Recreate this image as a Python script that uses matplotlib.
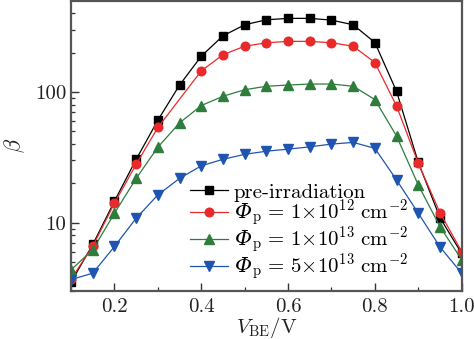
#!/usr/bin/env python3
"""Current gain beta vs V_BE for several proton fluences."""

import matplotlib

matplotlib.use("Agg")

import matplotlib.pyplot as plt
from matplotlib.ticker import FixedLocator, MultipleLocator, NullFormatter

plt.rcParams["font.family"] = "serif"
plt.rcParams["font.serif"] = ["cmr10", "DejaVu Serif"]
plt.rcParams["mathtext.fontset"] = "cm"
# used only by the legend texts (italic capital Phi via \mathsf)
plt.rcParams["mathtext.rm"] = "cmr10"
plt.rcParams["mathtext.it"] = "cmr10"
plt.rcParams["mathtext.sf"] = "DejaVu Serif:italic"
plt.rcParams["axes.formatter.use_mathtext"] = True

v_be = [0.10, 0.15, 0.20, 0.25, 0.30, 0.35, 0.40, 0.45, 0.50, 0.55,
        0.60, 0.65, 0.70, 0.75, 0.80, 0.85, 0.90, 0.95, 1.00]
v_be_red = [0.10, 0.15, 0.20, 0.25, 0.30, 0.40, 0.45, 0.50, 0.55,
            0.60, 0.65, 0.70, 0.75, 0.80, 0.85, 0.90, 0.95, 1.00]

beta_pre = [3.5, 6.8, 14.6, 30.5, 60.8, 113, 188, 269, 327, 357,
            366, 366, 355, 327, 239, 101, 28.9, 10.9, 5.8]
beta_1e12 = [3.7, 6.6, 14.1, 28, 53.5, 145, 193, 224, 238,
             244, 244, 238, 224, 168, 78, 28.4, 11.9, 6.0]
beta_1e13 = [4.35, 6.2, 11.8, 21.8, 37.8, 58, 78.7, 92.7, 104, 110.6,
             113, 115, 115, 110.6, 87.5, 45.9, 19.4, 9.3, 5.2]
beta_5e13 = [3.66, 4.1, 6.56, 10.8, 16.3, 21.8, 27.2, 30.5, 33.3, 35.2,
             36.5, 38, 39.9, 41.1, 37, 21.2, 11.8, 6.5, 4.1]

labels = [
    "pre-irradiation",
    r"$\mathsf{\Phi}_{\rm p}\,{=}\,1{\times}10^{12}\ {\rm cm}^{-2}$",
    r"$\mathsf{\Phi}_{\rm p}\,{=}\,1{\times}10^{13}\ {\rm cm}^{-2}$",
    r"$\mathsf{\Phi}_{\rm p}\,{=}\,5{\times}10^{13}\ {\rm cm}^{-2}$",
]

fig = plt.figure(figsize=(4.74, 3.39), dpi=100)
ax = fig.add_axes([0.150, 0.142, 0.824, 0.856])

ax.plot(v_be, beta_pre, "-s", color="black", lw=0.9, ms=5.2, label=labels[0])
ax.plot(v_be_red, beta_1e12, "-o", color="#ea2a2a", lw=0.9, ms=6.2, label=labels[1])
ax.plot(v_be, beta_1e13, "-^", color="#2e7d3c", lw=0.9, ms=7.2, label=labels[2])
ax.plot(v_be, beta_5e13, "-v", color="#1f55b0", lw=0.9, ms=7.2, label=labels[3])

ax.set_yscale("log")
ax.set_xlim(0.1, 1.0)
ax.set_ylim(3, 500)
ax.xaxis.set_major_locator(FixedLocator([0.2, 0.4, 0.6, 0.8, 1.0]))
ax.xaxis.set_minor_locator(MultipleLocator(0.1))
ax.set_xticklabels(["0.2", "0.4", "0.6", "0.8", "1.0"])
ax.yaxis.set_major_locator(FixedLocator([10, 100]))
ax.set_yticklabels(["10", "100"])
ax.yaxis.set_minor_locator(FixedLocator([3, 4, 5, 6, 7, 8, 9, 20, 30, 40, 50, 60,
                                         70, 80, 90, 200, 300, 400]))
ax.yaxis.set_minor_formatter(NullFormatter())

ax.tick_params(which="both", direction="in", labelsize=15, colors="#333333",
               labelcolor="#222222")
ax.tick_params(which="major", length=6, width=1.0)
ax.tick_params(which="minor", length=3, width=0.9)
ax.tick_params(axis="x", which="major", pad=5.5)
for sp in ax.spines.values():
    sp.set_linewidth(1.6)
    sp.set_color("#555555")

ax.set_xlabel(r"$V_{\rm BE}/{\rm V}$", fontsize=15, labelpad=-1, color="#222222")
ax.set_ylabel(r"$\beta$", fontsize=16, labelpad=6, color="#222222")

leg = ax.legend(loc="lower left", bbox_to_anchor=(0.305, 0.028), frameon=False,
                fontsize=15, handlelength=1.8, handletextpad=0.3,
                labelspacing=-0.2, borderpad=0.0, borderaxespad=0.0)
for t in leg.get_texts():
    t.set_math_fontfamily("custom")

fig.savefig("out.png", dpi=100)
plt.close(fig)
